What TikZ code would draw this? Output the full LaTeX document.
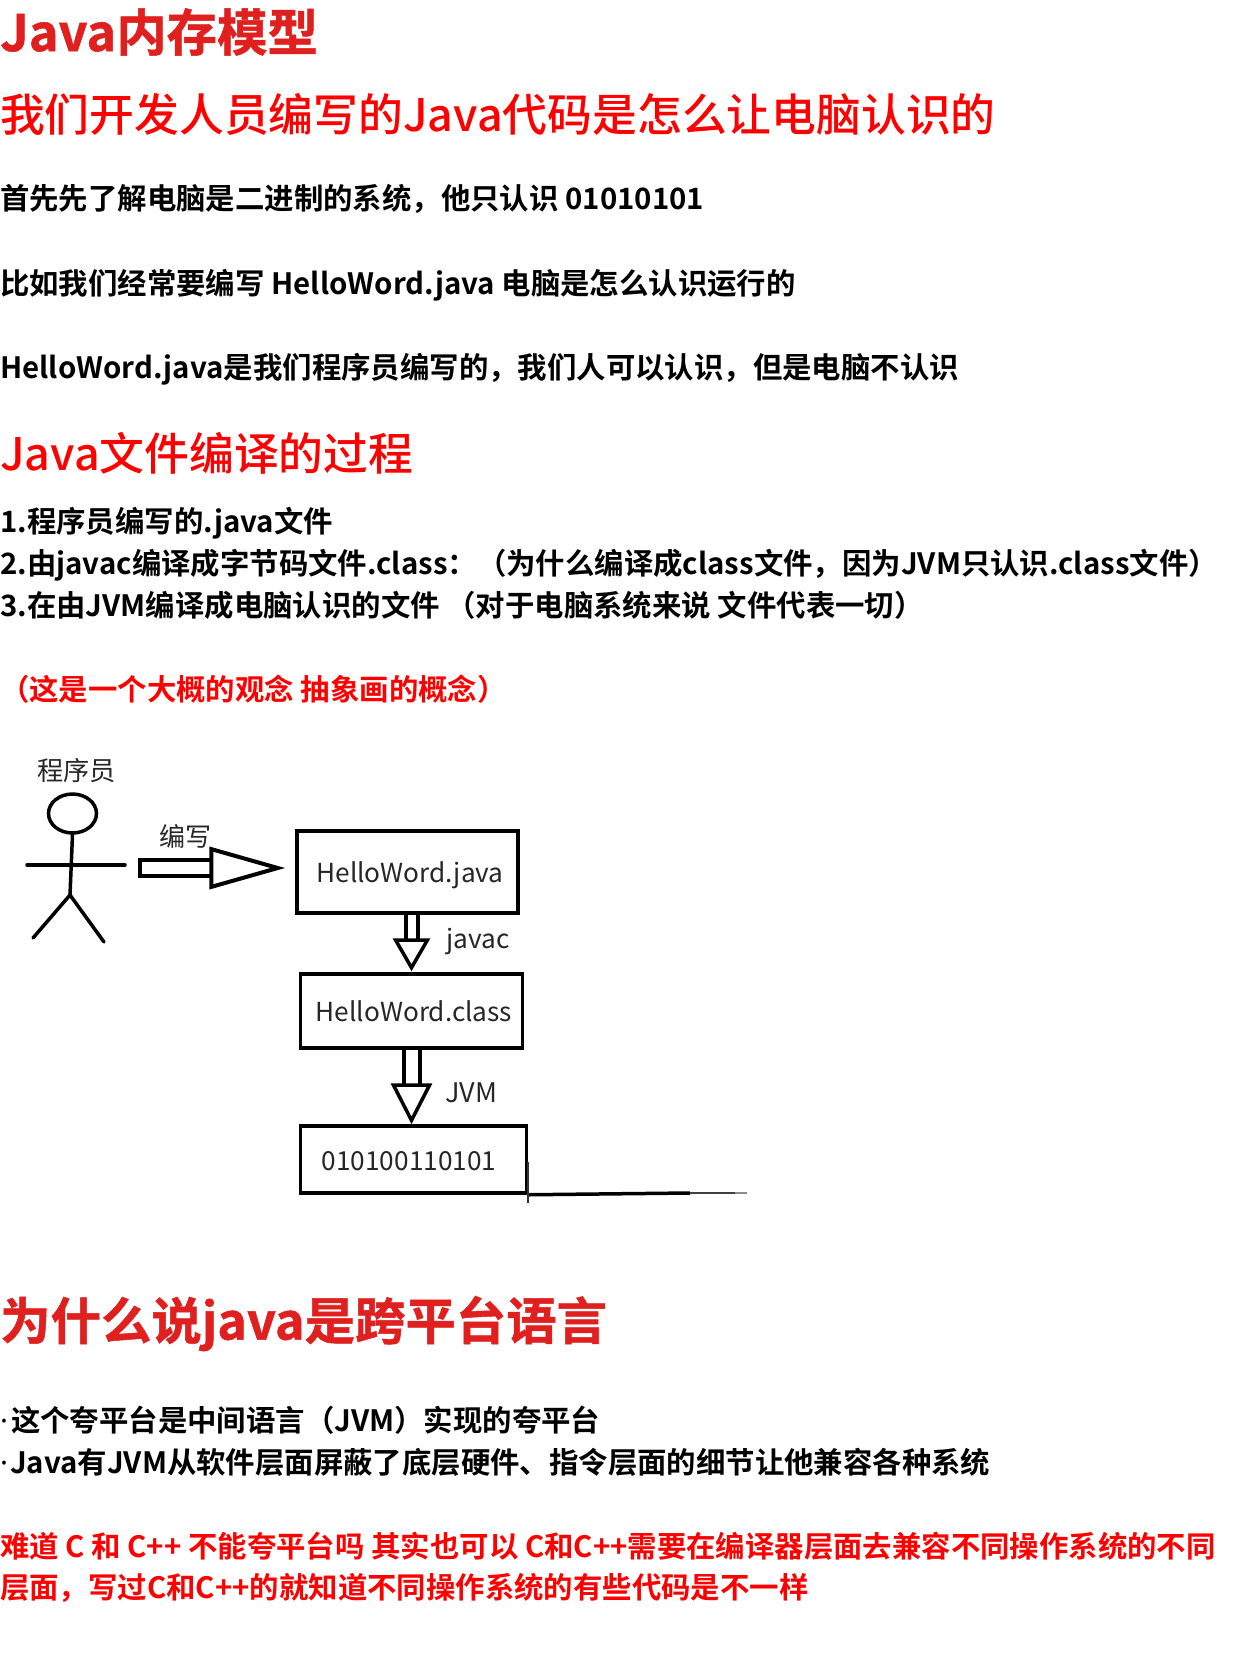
\documentclass[tikz,border=0pt]{standalone}
\usepackage{fontspec}
\usepackage{xcolor}
\setmainfont{Noto Sans CJK SC}
\newfontfamily\heavyfont[FakeBold=1]{Noto Sans CJK SC Bold}
\newfontfamily\headfont{Noto Sans CJK SC Medium}
\newfontfamily\bodyfont{Noto Sans CJK SC Bold}
\newfontfamily\dotfont{Noto Sans}
\usetikzlibrary{arrows.meta}
\usetikzlibrary{shapes.geometric}
\definecolor{titlered}{HTML}{E01F1F}
\definecolor{headred}{HTML}{FF0000}
\definecolor{inkgray}{HTML}{262626}
\begin{document}
\begin{tikzpicture}[x=1pt, y=-1pt]
    \tikzstyle{titletext} = [anchor=west, inner sep=0pt, titlered, font=\heavyfont\fontsize{50.4}{60}\selectfont]
    \tikzstyle{headtext} = [anchor=west, inner sep=0pt, headred, font=\headfont\fontsize{44.8}{54}\selectfont]
    \tikzstyle{bodytext} = [anchor=west, inner sep=0pt, black, font=\bodyfont\fontsize{29.4}{36}\selectfont]
    \tikzstyle{redtext} = [anchor=west, inner sep=0pt, headred, font=\bodyfont\fontsize{29.4}{36}\selectfont]
    \tikzstyle{sketchtext} = [inner sep=0pt, inkgray, font=\fontsize{26.2}{32}\selectfont]
    \tikzstyle{filebox} = [draw=black, line width=3.5pt, inner sep=0pt]
    \tikzstyle{figure} = [line width=3.5pt, line cap=round, black]
    \tikzstyle{hollow} = [double=white, double distance=12pt, line width=4pt, black]
    \fill[white] (0, 0) rectangle (1242, 1660);
    \useasboundingbox (0, 0) rectangle (1242, 1660);
    \node[titletext] (title) at (0, 32) {Java内存模型};
    \node[headtext] (headCode) at (0, 114) {我们开发人员编写的Java代码是怎么让电脑认识的};
    \node[bodytext] (lineBinary) at (0, 199) {首先先了解电脑是二进制的系统，他只认识 01010101};
    \node[bodytext] (lineHello) at (0, 285) {比如我们经常要编写 HelloWord.java 电脑是怎么认识运行的};
    \node[bodytext] (lineHuman) at (0, 369) {HelloWord.java是我们程序员编写的，我们人可以认识，但是电脑不认识};
    \node[headtext] (headCompile) at (0, 453) {Java文件编译的过程};
    \node[bodytext] (stepOne) at (0, 523) {1.程序员编写的.java文件};
    \node[bodytext] (stepTwo) at (0, 565) {2.由javac编译成字节码文件.class：（为什么编译成class文件，因为JVM只认识.class文件）};
    \node[bodytext] (stepThree) at (0, 605) {3.在由JVM编译成电脑认识的文件 （对于电脑系统来说 文件代表一切）};
    \node[redtext] (noteIdea) at (0, 689) {（这是一个大概的观念 抽象画的概念）};
    \node[sketchtext] (coderLabel) at (76.5, 771) {程序员};
    \node[draw=black, line width=3.5pt, ellipse, minimum width=48pt, minimum height=39pt, inner sep=0pt] (head) at (72.5, 813.5) {};
    \coordinate (hip) at (70, 895);
    \coordinate (handLeft) at (27, 865);
    \coordinate (handRight) at (125, 865);
    \coordinate (footLeft) at (33, 938);
    \coordinate (footRight) at (104, 942);
    \draw[figure] (head.south) -- (hip);
    \draw[figure] (handLeft) -- (handRight);
    \draw[figure] (hip) -- (footLeft);
    \draw[figure] (hip) -- (footRight);
    \node[filebox, minimum width=221pt, minimum height=82pt] (javaFile) at (407.5, 872) {};
    \node[sketchtext] (javaText) at (410, 875) {HelloWord.java};
    \node[filebox, minimum width=222pt, minimum height=74pt] (classFile) at (411.5, 1011) {};
    \node[sketchtext] (classText) at (414, 1011) {HelloWord.class};
    \node[filebox, minimum width=226pt, minimum height=67pt] (binFile) at (413.5, 1159.5) {};
    \node[sketchtext] (binText) at (409, 1161) {010100110101};
    \node[sketchtext, font=\fontsize{26}{30}\selectfont] (writeLabel) at (185, 836) {编写};
    \node[sketchtext] (javacLabel) at (478, 942) {javac};
    \node[sketchtext, font=\fontsize{27}{32}\selectfont] (jvmLabel) at (471, 1093) {JVM};
    \coordinate (writeStart) at (138, 868);
    \draw[hollow, shorten >=10pt, {Bar[width=20pt, line width=4pt]}-{Triangle[open, fill=white, length=76pt, width=42pt, line width=4pt]}] (writeStart) -- (writeStart -| javaFile.west);
    \draw[hollow, double distance=8pt, shorten >=1pt, -{Triangle[open, fill=white, length=33pt, width=37pt, line width=3.5pt]}] (javaFile.south -| classFile.north) -- (classFile.north);
    \draw[hollow, shorten >=0pt, -{Triangle[open, fill=white, length=41pt, width=41pt, line width=3.5pt]}] (classFile.south) -- (classFile.south |- binFile.north);
    \coordinate (smudgeStart) at (binFile.south east);
    \coordinate (smudgeMid) at (690, 1193);
    \coordinate (smudgeFade) at (735, 1193);
    \coordinate (smudgeEnd) at (747, 1193);
    \coordinate (tickTop) at (528, 1162);
    \coordinate (tickBottom) at (528, 1203);
    \draw[line width=3.5pt, black] (smudgeStart) -- (smudgeMid);
    \draw[line width=2.5pt, black!75] (smudgeMid) -- (smudgeFade);
    \draw[line width=1.5pt, black!45] (smudgeFade) -- (smudgeEnd);
    \draw[line width=2.5pt, black!80] (tickTop) -- (tickBottom);
    \node[titletext] (headCross) at (0, 1323.5) {为什么说java是跨平台语言};
    \node[bodytext] (crossOne) at (0, 1420) {{\dotfont\bfseries ·}\hspace{3pt}这个夸平台是中间语言（JVM）实现的夸平台};
    \node[bodytext] (crossTwo) at (0, 1462) {{\dotfont\bfseries ·}\hspace{2pt}Java有JVM从软件层面屏蔽了底层硬件、指令层面的细节让他兼容各种系统};
    \node[redtext] (noteOne) at (0, 1546) {难道 C 和 C++ 不能夸平台吗 其实也可以 C和C++需要在编译器层面去兼容不同操作系统的不同};
    \node[redtext] (noteTwo) at (0, 1588) {层面，写过C和C++的就知道不同操作系统的有些代码是不一样};
\end{tikzpicture}
\end{document}
